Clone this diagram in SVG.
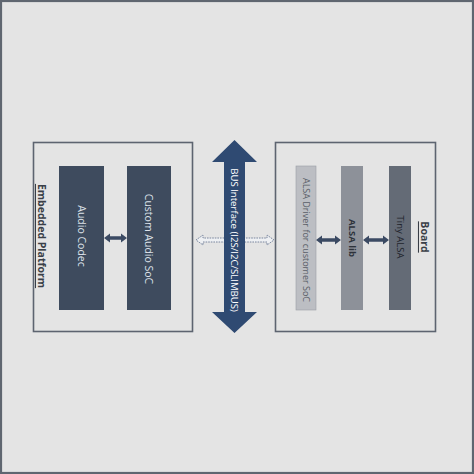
<svg xmlns="http://www.w3.org/2000/svg" width="474" height="474" viewBox="0 0 474 474">
<defs>
<style>
.frame{fill:none;stroke:#5d6470;stroke-width:1.6}
.t{font-family:"Open Sans","Liberation Sans",sans-serif;text-anchor:middle;dominant-baseline:central}
.dark{fill:#3e4b5e}
.arr{fill:#3b4a63}
</style>
</defs>
<rect x="0" y="0" width="474" height="474" fill="#e4e4e4"/>
<rect x="1" y="1" width="472" height="472" fill="none" stroke="#5f6670" stroke-width="2.2"/>

<g id="embedded-platform">
<rect class="frame" x="33.5" y="142.5" width="159" height="189"/>
<text class="t" transform="translate(42,236) rotate(90)" font-size="10.5" font-weight="bold" fill="#3a3f48" text-decoration="underline">Embedded Platform</text>
</g>
<g id="audio-codec">
<rect class="dark" x="59" y="166" width="45" height="144"/>
<text class="t" transform="translate(81.5,236) rotate(90)" font-size="10.5" fill="#dde2ea">Audio Codec</text>
</g>
<g id="custom-audio-soc">
<rect class="dark" x="127" y="166" width="44" height="144"/>
<text class="t" transform="translate(149,239) rotate(90)" font-size="10.5" fill="#dde2ea">Custom Audio SoC</text>
</g>

<g id="board">
<rect class="frame" x="275.5" y="142.5" width="160" height="189"/>
<text class="t" transform="translate(425,237) rotate(90)" font-size="10.5" font-weight="bold" fill="#3a3f48" text-decoration="underline">Board</text>
</g>
<g id="alsa-driver">
<rect x="296" y="166" width="20" height="144" fill="#bcbec3" stroke="#9a9ea6" stroke-width="0.6"/>
<text class="t" transform="translate(306,240) rotate(90)" font-size="9" fill="#5a5f68">ALSA Driver for customer SoC</text>
</g>
<g id="alsa-lib">
<rect x="341" y="166" width="22" height="144" fill="#8d9199"/>
<text class="t" transform="translate(352,238) rotate(90)" font-size="9.5" font-weight="bold" fill="#2e333b">ALSA lib</text>
</g>
<g id="tiny-alsa">
<rect x="389" y="166" width="22" height="144" fill="#646b76"/>
<text class="t" transform="translate(400,237) rotate(90)" font-size="9.5" fill="#1f242c">Tiny ALSA</text>
</g>

<g id="connectors">
<polygon class="arr" points="104,238 110,233.5 110,236.3 121,236.3 121,233.5 127,238 121,242.5 121,239.7 110,239.7 110,242.5"/>
<polygon class="arr" points="316,240 322,235.5 322,238.3 335,238.3 335,235.5 341,240 335,244.5 335,241.7 322,241.7 322,244.5"/>
<polygon class="arr" points="363,240 369,235.5 369,238.3 383,238.3 383,235.5 389,240 383,244.5 383,241.7 369,241.7 369,244.5"/>
<polygon fill="#eef0f3" stroke="#6d7c96" stroke-width="0.9" stroke-dasharray="1.6 1" points="196,240 203,235 203,238 267,238 267,235 274,240 267,245 267,242 203,242 203,245"/>
</g>

<g id="bus-interface">
<polygon fill="#2f4a72" points="234.5,140 257,162 245,162 245,312 257,312 234.5,333 212,312 224,312 224,162 212,162"/>
<text class="t" transform="translate(234.5,240) rotate(90)" font-size="9.6" fill="#ffffff">BUS Interface (I2S/I2C/SLIMBUS)</text>
</g>
</svg>
